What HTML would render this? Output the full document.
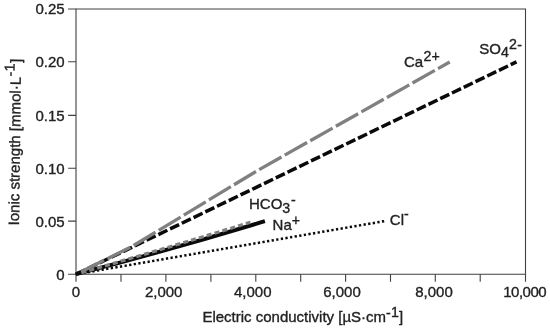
<!DOCTYPE html>
<html><head><meta charset="utf-8">
<style>
html,body{margin:0;padding:0;background:#fff;}
svg{display:block;}
text{font-family:"Liberation Sans",Arial,sans-serif;font-size:15px;fill:#222;stroke:#222;stroke-width:0.35px;}
.s{font-size:14.2px;}
</style></head><body>
<svg width="550" height="331" viewBox="0 0 550 331">
<rect width="550" height="331" fill="#fff"/>
<!-- frame -->
<g stroke="#404040" stroke-width="1.1" fill="none">
<path d="M76 274.85V9H525.5V274.85M75.45 274.3H526.05"/>
<path d="M68.1 9.0H76M68.1 61.8H76M68.1 115.4H76M68.1 168.2H76M68.1 221.1H76M68.1 274.3H76"/>
<path d="M76.0 274.3V281.7M121.0 274.3V281.7M165.9 274.3V281.7M210.9 274.3V281.7M255.8 274.3V281.7M300.7 274.3V281.7M345.6 274.3V281.7M390.5 274.3V281.7M435.3 274.3V281.7M480.2 274.3V281.7M525.5 274.3V281.7"/>
</g>
<!-- data lines -->
<g fill="none" stroke-width="3.2">
<line x1="76.1" y1="274.2" x2="384.6" y2="221.1" stroke="#0a0a0a" stroke-width="2.5" stroke-dasharray="2.3 2.364" stroke-dashoffset="2.17"/>
<path d="M76.1 274.2Q170.5 249.8 264.9 221.2" stroke="#0a0a0a" stroke-width="3.9"/>
<line x1="76.1" y1="274.2" x2="516.5" y2="61.9" stroke="#0a0a0a" stroke-width="3.5" stroke-dasharray="10 3.04"/>
<path d="M76.1 274.2L132.5 246.2L257.6 170.5L449.7 62" stroke="#808080" stroke-width="3.3" stroke-linejoin="round" stroke-dasharray="25.65 3.7" stroke-dashoffset="23.8"/>
<path d="M76.1 274.2Q163.3 249.2 250.5 222.2" stroke="#808080" stroke-width="3.2" stroke-dasharray="5.1 3.07" stroke-dashoffset="2.6"/>
<path d="M75.6 274.4L80.2 272.7" stroke="#0a0a0a" stroke-width="3.5"/>
</g>
<!-- y labels -->
<g text-anchor="end">
<text x="64.6" y="14.2">0.25</text>
<text x="64.6" y="67.3">0.20</text>
<text x="64.6" y="120.7">0.15</text>
<text x="64.6" y="173.9">0.10</text>
<text x="64.6" y="227.3">0.05</text>
<text x="64.6" y="280.4">0</text>
</g>
<g text-anchor="middle">
<text x="76" y="296.9">0</text>
<text x="163.7" y="296.9">2,000</text>
<text x="252.8" y="296.9">4,000</text>
<text x="342" y="296.9">6,000</text>
<text x="434" y="296.9">8,000</text>
<text x="524.7" y="296.9" letter-spacing="-0.5">10,000</text>
</g>
<text x="202.4" y="322.4">Electric conductivity [µS·cm<tspan class="s" dy="-4.2">-</tspan><tspan class="s" dx="0.3" dy="-1.2">1</tspan><tspan dy="5.4">]</tspan></text>
<text transform="translate(19,225.4) rotate(-89.3)">Ionic strength [mmol·L<tspan class="s" dx="0.4" dy="-6.1">-</tspan><tspan class="s" dx="0.3" dy="-0.4">1</tspan><tspan dx="0.8" dy="6.5">]</tspan></text>
<!-- labels -->
<text x="404" y="67">Ca<tspan class="s" dx="0.4" dy="-6">2+</tspan></text>
<text x="479.3" y="54.4">SO<tspan class="s" dy="2.9">4</tspan><tspan class="s" dy="-8.5">2<tspan dx="0.5" dy="1">-</tspan></tspan></text>
<text x="249" y="209.2">HCO<tspan class="s" dy="3.4">3</tspan><tspan class="s" dx="0.7" dy="-8">-</tspan></text>
<text x="272.6" y="230.4">Na<tspan class="s" dy="-5.2">+</tspan></text>
<text x="389.8" y="224.7">Cl<tspan class="s" dy="-6">-</tspan></text>
</svg>
</body></html>
